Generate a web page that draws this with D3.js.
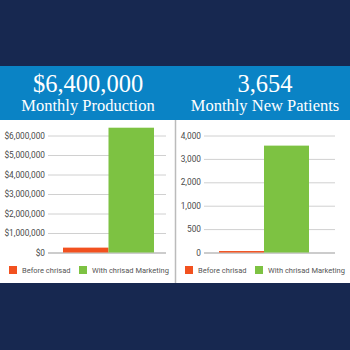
<!DOCTYPE html>
<html>
  <head>
    <script src="https://d3js.org/d3.v7.min.js"></script>
    <style>
      body { margin: 0; }
      .tick text { font-family: Roboto, sans-serif; font-size: 8.3px; fill: #4a4a4a; }
      .legend text { font-family: Roboto, sans-serif; font-size: 7.5px; fill: #555; }
      .title { font-family: "Liberation Serif", serif; fill: white; text-anchor: middle; }
    </style>
  </head>
  <body>
    <script>
      var width = 350, height = 350;

      // data
      var series = ["Before chrisad", "With chrisad Marketing"];
      var colors = ["#f2511f", "#7dc242"];
      var productionValues = [250000, 6400000];
      var patientValues = [50, 3654];
      var productionTicks = [0, 1000000, 2000000, 3000000, 4000000, 5000000, 6000000];
      var patientTicks = [0, 800, 1600, 2400, 3200, 4000];
      var patientTickLabels = ["0", "500", "1,000", "2,000", "3,000", "4,000"];
      var headlines = ["$6,400,000", "3,654"];
      var subtitles = ["Monthly Production", "Monthly New Patients"];

      var svg = d3.select("body").append("svg")
        .attr("width", width).attr("height", height);

      svg.append("rect").attr("width", width).attr("height", height).attr("fill", "#172850");
      svg.append("rect").attr("y", 66).attr("width", width).attr("height", 54).attr("fill", "#0a83c5");
      svg.append("rect").attr("y", 120).attr("width", width).attr("height", 163).attr("fill", "white");
      svg.append("line").attr("x1", 175.5).attr("x2", 175.5).attr("y1", 120).attr("y2", 283)
        .attr("stroke", "#bbb").attr("stroke-width", 1.5);

      // titles
      var centers = [88, 265];
      headlines.forEach(function(h, i) {
        svg.append("text").attr("class", "title").attr("x", centers[i]).attr("y", 92)
          .style("font-size", "24.5px").text(h);
        svg.append("text").attr("class", "title").attr("x", centers[i]).attr("y", 111)
          .style("font-size", "16.5px").text(subtitles[i]);
      });

      function panel(opts) {
        var y = d3.scaleLinear().domain(opts.domain).range([252.5, 135.5]);
        var x = d3.scaleBand().domain(series).range(opts.barRange);
        var g = svg.append("g");

        var axis = d3.axisLeft(y)
          .tickValues(opts.ticks)
          .tickSize(-(opts.gridRange[1] - opts.gridRange[0]))
          .tickPadding(3)
          .tickFormat(opts.format);

        g.append("g")
          .attr("transform", "translate(" + opts.gridRange[0] + ",0)")
          .call(axis)
          .call(function(a) {
            a.select(".domain").remove();
            a.selectAll(".tick line").attr("stroke", "#d0d0d0");
            a.selectAll(".tick:first-of-type line").attr("stroke", "#999");
          });

        g.selectAll("rect.bar").data(opts.values).enter().append("rect")
          .attr("class", "bar")
          .attr("x", function(d, i) { return x(series[i]); })
          .attr("width", x.bandwidth())
          .attr("y", function(d) { return y(d); })
          .attr("height", function(d) { return y(0) - y(d); })
          .attr("fill", function(d, i) { return colors[i]; });

        var lg = g.append("g").attr("class", "legend");
        series.forEach(function(s, i) {
          lg.append("rect").attr("x", opts.legendX[i]).attr("y", 266)
            .attr("width", 8).attr("height", 8).attr("fill", colors[i]);
          lg.append("text").attr("x", opts.legendX[i] + 13).attr("y", 272.5).text(s);
        });
      }

      panel({
        domain: [0, 6000000],
        ticks: productionTicks,
        format: function(d) { return "$" + d3.format(",")(d); },
        gridRange: [48, 166],
        barRange: [63, 154],
        values: productionValues,
        legendX: [9, 79]
      });

      panel({
        domain: [0, 4000],
        ticks: patientTicks,
        format: function(d, i) { return patientTickLabels[i]; },
        gridRange: [204, 335],
        barRange: [219, 309],
        values: patientValues,
        legendX: [185, 255]
      });
    </script>
  </body>
</html>
